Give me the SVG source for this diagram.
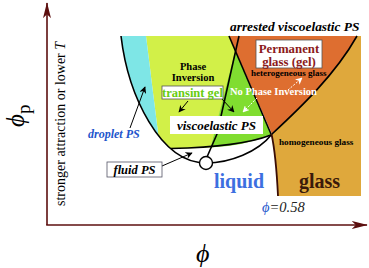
<svg xmlns="http://www.w3.org/2000/svg" width="369" height="268" viewBox="0 0 369 268">
<defs>
<style>
.bl{fill:none;stroke:#000;stroke-width:1.6}
.thin{fill:none;stroke:#000;stroke-width:1}
.ax{fill:none;stroke:#5c0f0f;stroke-width:1.6}
.serif{font-family:"Liberation Serif","DejaVu Serif",serif}
.b{font-weight:bold}
.i{font-style:italic}
.box{fill:#fff;stroke:#555;stroke-width:0.8}
</style>
<marker id="ah" viewBox="0 0 10 10" refX="9" refY="5" markerWidth="7" markerHeight="7" orient="auto" markerUnits="userSpaceOnUse">
<path d="M0,0 L10,5 L0,10 L3,5 Z" fill="#000"/>
</marker>
<marker id="aw" viewBox="0 0 10 10" refX="9" refY="5" markerWidth="7" markerHeight="7" orient="auto" markerUnits="userSpaceOnUse">
<path d="M0,0 L10,5 L0,10 L3,5 Z" fill="#fff"/>
</marker>
<marker id="axh" viewBox="0 0 20 10" refX="19" refY="5" markerWidth="16" markerHeight="8" orient="auto" markerUnits="userSpaceOnUse">
<path d="M0,0 L20,5 L0,10 L5,5 Z" fill="#5c0f0f"/>
</marker>
</defs>

<g id="regions">
<path id="golden" d="M357,36 L361,36 L361,196 L278,196 Q276,155 272,134 C300,108 335,75 357,36 Z" fill="#dfa83c"/>
<path id="yellow" d="M146,36 L240,36 L210.5,147.5 Q190,148.5 171,148.5 L163.3,141.3 L158.3,135 Z" fill="#d2f048"/>
<path id="cyan" d="M121,36 L146,36 L158.3,135 L153.4,128.7 L148.9,121.6 L140.7,106.2 L133.7,89.4 L128.1,71.9 L123.8,53.9 Z" fill="#7ee6e6"/>
<path id="green" d="M235.3,50.6 L271,134.5 Q245,146 210.5,147.5 Z" fill="#80dd30"/>
<path id="orange" d="M229,36 L357,36 C335,75 300,108 272,134 Z" fill="#de6e30"/>
</g>

<g id="connectors">
<path id="ucurve" class="bl" d="M121,36 C128,95 160,163 206,163 C230,163 258,152 272,134"/>
<path id="glass-line" d="M271.5,134 Q276,155 278,196" fill="none" stroke="#3a0d05" stroke-width="1.8"/>
<path id="orange-right" class="bl" d="M272,134 C300,108 335,75 357,36"/>
<path id="arrested-line" class="bl" d="M229,36 L271,134"/>
<path id="pi-line" class="bl" d="M239,36 L217,134 L207,157"/>
<path id="fill-bottom" class="bl" d="M171,148.5 Q240,147 271,135"/>
<line x1="130" y1="128" x2="145" y2="87" class="thin" marker-end="url(#ah)"/>
<line x1="162" y1="166" x2="192" y2="153" class="thin" marker-end="url(#ah)"/>
<line x1="188" y1="101" x2="179" y2="112" class="thin" marker-end="url(#ah)"/>
<line x1="222" y1="99" x2="234" y2="112" class="thin" marker-end="url(#ah)"/>
<line x1="257" y1="98" x2="243" y2="112" fill="none" stroke="#fff" stroke-width="1" stroke-dasharray="2,1.5" marker-end="url(#aw)"/>
<line x1="288" y1="90" x2="302" y2="78" fill="none" stroke="#fff" stroke-width="1" stroke-dasharray="2,1.5" marker-end="url(#aw)"/>
<line x1="47" y1="225" x2="47" y2="3" class="ax" marker-end="url(#axh)"/>
<line x1="46.2" y1="225" x2="367" y2="225" class="ax" marker-end="url(#axh)"/>
</g>

<g id="critical-point">
<circle cx="206" cy="163" r="6.5" fill="#fff" stroke="#000" stroke-width="1.4"/>
</g>

<g id="axis-labels" class="serif">
<text transform="translate(24,127) rotate(-90)" font-size="25" class="i">ϕ<tspan font-style="normal" font-size="19" dy="6">p</tspan></text>
<text transform="translate(65,206) rotate(-90)" font-size="14">stronger attraction or lower <tspan font-style="italic">T</tspan></text>
<text x="196" y="262" font-size="26" class="i">ϕ</text>
<text x="262" y="212" font-size="14.5" class="i"><tspan fill="#2255cc">ϕ</tspan><tspan fill="#222">=0.58</tspan></text>
</g>

<g id="node-arrested" class="serif b i"><text x="230" y="31" font-size="13.4">arrested viscoelastic PS</text></g>

<g id="node-permanent" class="serif b">
<rect x="256" y="40" width="66" height="28" class="box"/>
<text x="289" y="52.5" font-size="12.8" text-anchor="middle" fill="#8b1a1a">Permanent</text>
<text x="289" y="65.5" font-size="12.8" text-anchor="middle" fill="#8b1a1a">glass (gel)</text>
</g>

<g id="node-heterogeneous" class="serif b"><text x="251" y="76" font-size="9">heterogeneous glass</text></g>
<g id="node-homogeneous" class="serif b"><text x="279" y="145" font-size="9.2">homogeneous glass</text></g>

<g id="node-phase-inversion" class="serif b">
<text x="193" y="70" font-size="10.5" text-anchor="middle">Phase</text>
<text x="193" y="81" font-size="10.5" text-anchor="middle">Inversion</text>
</g>

<g id="node-transint" class="serif b">
<rect x="162" y="86" width="61" height="13" class="box"/>
<text x="192.5" y="97" font-size="12.5" text-anchor="middle" fill="#66cc11">transint gel</text>
</g>

<g id="node-nophase" class="serif b"><text x="230" y="95" font-size="10.5" fill="#fff">No Phase Inversion</text></g>

<g id="node-viscoelastic" class="serif b i">
<rect x="170" y="116" width="93" height="18" fill="#fff"/>
<text x="216.5" y="130" font-size="13" text-anchor="middle">viscoelastic PS</text>
</g>

<g id="node-droplet" class="serif b i"><text x="88" y="138" font-size="12" fill="#2255cc">droplet PS</text></g>

<g id="node-fluid" class="serif b i">
<rect x="107" y="162" width="55" height="15" fill="#fff" stroke="#556" stroke-width="0.8"/>
<text x="134.5" y="174" font-size="12.5" text-anchor="middle">fluid PS</text>
</g>

<g id="node-liquid" class="serif b"><text x="214" y="188" font-size="20" fill="#3d6fe0">liquid</text></g>
<g id="node-glass" class="serif b"><text x="299" y="188" font-size="20" fill="#3a1a0a">glass</text></g>
</svg>
